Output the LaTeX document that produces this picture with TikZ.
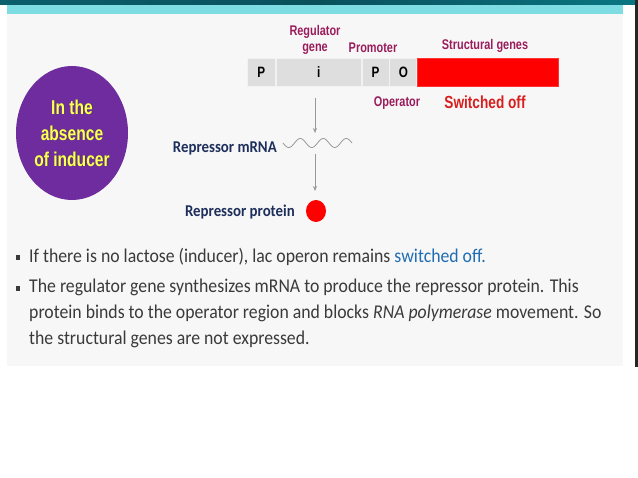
\documentclass[tikz,border=0pt]{standalone}
\usepackage{fontspec}
\setmainfont{Carlito}[FakeStretch=0.91]
\newfontfamily\narrowbf[FakeStretch=0.78]{Liberation Sans Bold}
\newfontfamily\labelbf[FakeStretch=0.90]{Carlito Bold}
\usetikzlibrary{arrows.meta,shapes.geometric,calc}
\definecolor{tealdark}{HTML}{0B5E6C}
\definecolor{cyanband}{HTML}{7EDDE2}
\definecolor{slidebg}{HTML}{F7F7F7}
\definecolor{purplec}{HTML}{6E2C9E}
\definecolor{yellowt}{HTML}{FFFF55}
\definecolor{maroon}{HTML}{9A1C5C}
\definecolor{navyt}{HTML}{1E2F5C}
\definecolor{cellgray}{HTML}{DEDEDE}
\definecolor{bodygray}{HTML}{3A3A3A}
\definecolor{linkblue}{HTML}{1F6DB2}
\definecolor{redoff}{HTML}{D81E1E}
\tikzset{
  cell/.style={draw=white!90!gray, line width=0.8pt, fill=cellgray, minimum height=28pt, inner sep=0pt, anchor=west, font=\narrowbf\fontsize{15}{15}\selectfont, text=black},
  lbl/.style={font=\narrowbf\fontsize{14}{16}\selectfont, text=maroon, align=center, inner sep=0pt},
  dlbl/.style={font=\labelbf\fontsize{16.5}{16.5}\selectfont, text=navyt, inner sep=0pt},
  arr/.style={draw=gray!80, line width=0.6pt, -{Stealth[length=5pt,width=4pt]}},
  bullettext/.style={font=\fontsize{19.5}{26}\selectfont, text=bodygray, anchor=north west, align=left, inner sep=0pt},
  bulletmark/.style={fill=bodygray, minimum width=3.5pt, minimum height=5pt, inner sep=0pt},
}
\begin{document}
\begin{tikzpicture}[x=1pt,y=1pt]
\useasboundingbox (0,0) rectangle (638,-478);
\fill[white] (0,0) rectangle (638,-478);
% slide frame
\fill[slidebg] (7,-14) rectangle (623,-366);
\fill[cyanband] (7,-5) rectangle (623,-14);
\fill[left color=tealdark, right color=tealdark!85!cyan, middle color=tealdark!85!black] (0,0) rectangle (638,-5);
\fill[black!85] (634.5,0) rectangle (637.5,-367);
% circle
\node[ellipse, fill=purplec, minimum width=112pt, minimum height=134pt, inner sep=0pt] (circ) at (72,-133) {};
\node[font=\narrowbf\fontsize{20}{26}\selectfont, text=black!75, align=center] (circshadow) at ($(circ.center)+(0.7,-0.7)$) {In the\\absence\\of inducer};
\node[font=\narrowbf\fontsize{20}{26}\selectfont, text=yellowt, align=center] (circtext) at (circ.center) {In the\\absence\\of inducer};
% gene bar
\node[cell, minimum width=28pt] (cP) at (247,-72.5) {P};
\node[cell, minimum width=85pt] (ci) at (cP.east) {i};
\node[cell, minimum width=27pt] (cP2) at (ci.east) {P};
\node[cell, minimum width=27pt] (cO) at (cP2.east) {O};
\node[cell, minimum width=141pt, fill=red, draw=red!80!white] (cS) at (cO.east) {};
% labels
\node[lbl] (lreg) at (315,-40) {Regulator\\gene};
\node[lbl] (lprom) at (373,-48) {Promoter};
\node[lbl] (lstruct) at (485,-46) {Structural genes};
\node[lbl] (lop) at (397,-103) {Operator};
\node[lbl, font=\narrowbf\fontsize{17.5}{17.5}\selectfont, text=redoff] (loff) at (485,-102) {Switched off};
% mRNA
\draw[gray!80, line width=0.8pt] plot[domain=0:69, samples=80] ({\x+283}, {-143+4.5*sin(\x/69*3*360+180)});
\node[dlbl, anchor=east] (lmrna) at (277,-148) {Repressor mRNA};
\coordinate (a1s) at (315,-98);
\coordinate (a1e) at (315,-133);
\draw[arr] (a1s) -- (a1e);
\coordinate (a2s) at (315,-154);
\coordinate (a2e) at (315,-191);
\draw[arr] (a2s) -- (a2e);
\node[circle, fill=red, minimum width=20pt, minimum height=20pt, inner sep=0pt, yscale=1.1] (prot) at (316,-211) {};
\node[dlbl, anchor=east] (lprot) at (295,-212) {Repressor protein};
% bullets
\node[bulletmark] (b1) at (18,-258) {};
\node[bulletmark] (b2) at (18,-289) {};
\node[bullettext] (t1) at (29,-248) {If there is no lactose (inducer), lac operon remains \textcolor{linkblue}{switched off.}};
\node[bullettext] (t2) at (29,-279) {The regulator gene synthesizes mRNA to produce the repressor protein. This\\protein binds to the operator region and blocks \textit{RNA polymerase} movement. So\\the structural genes are not expressed.};
\end{tikzpicture}
\end{document}
